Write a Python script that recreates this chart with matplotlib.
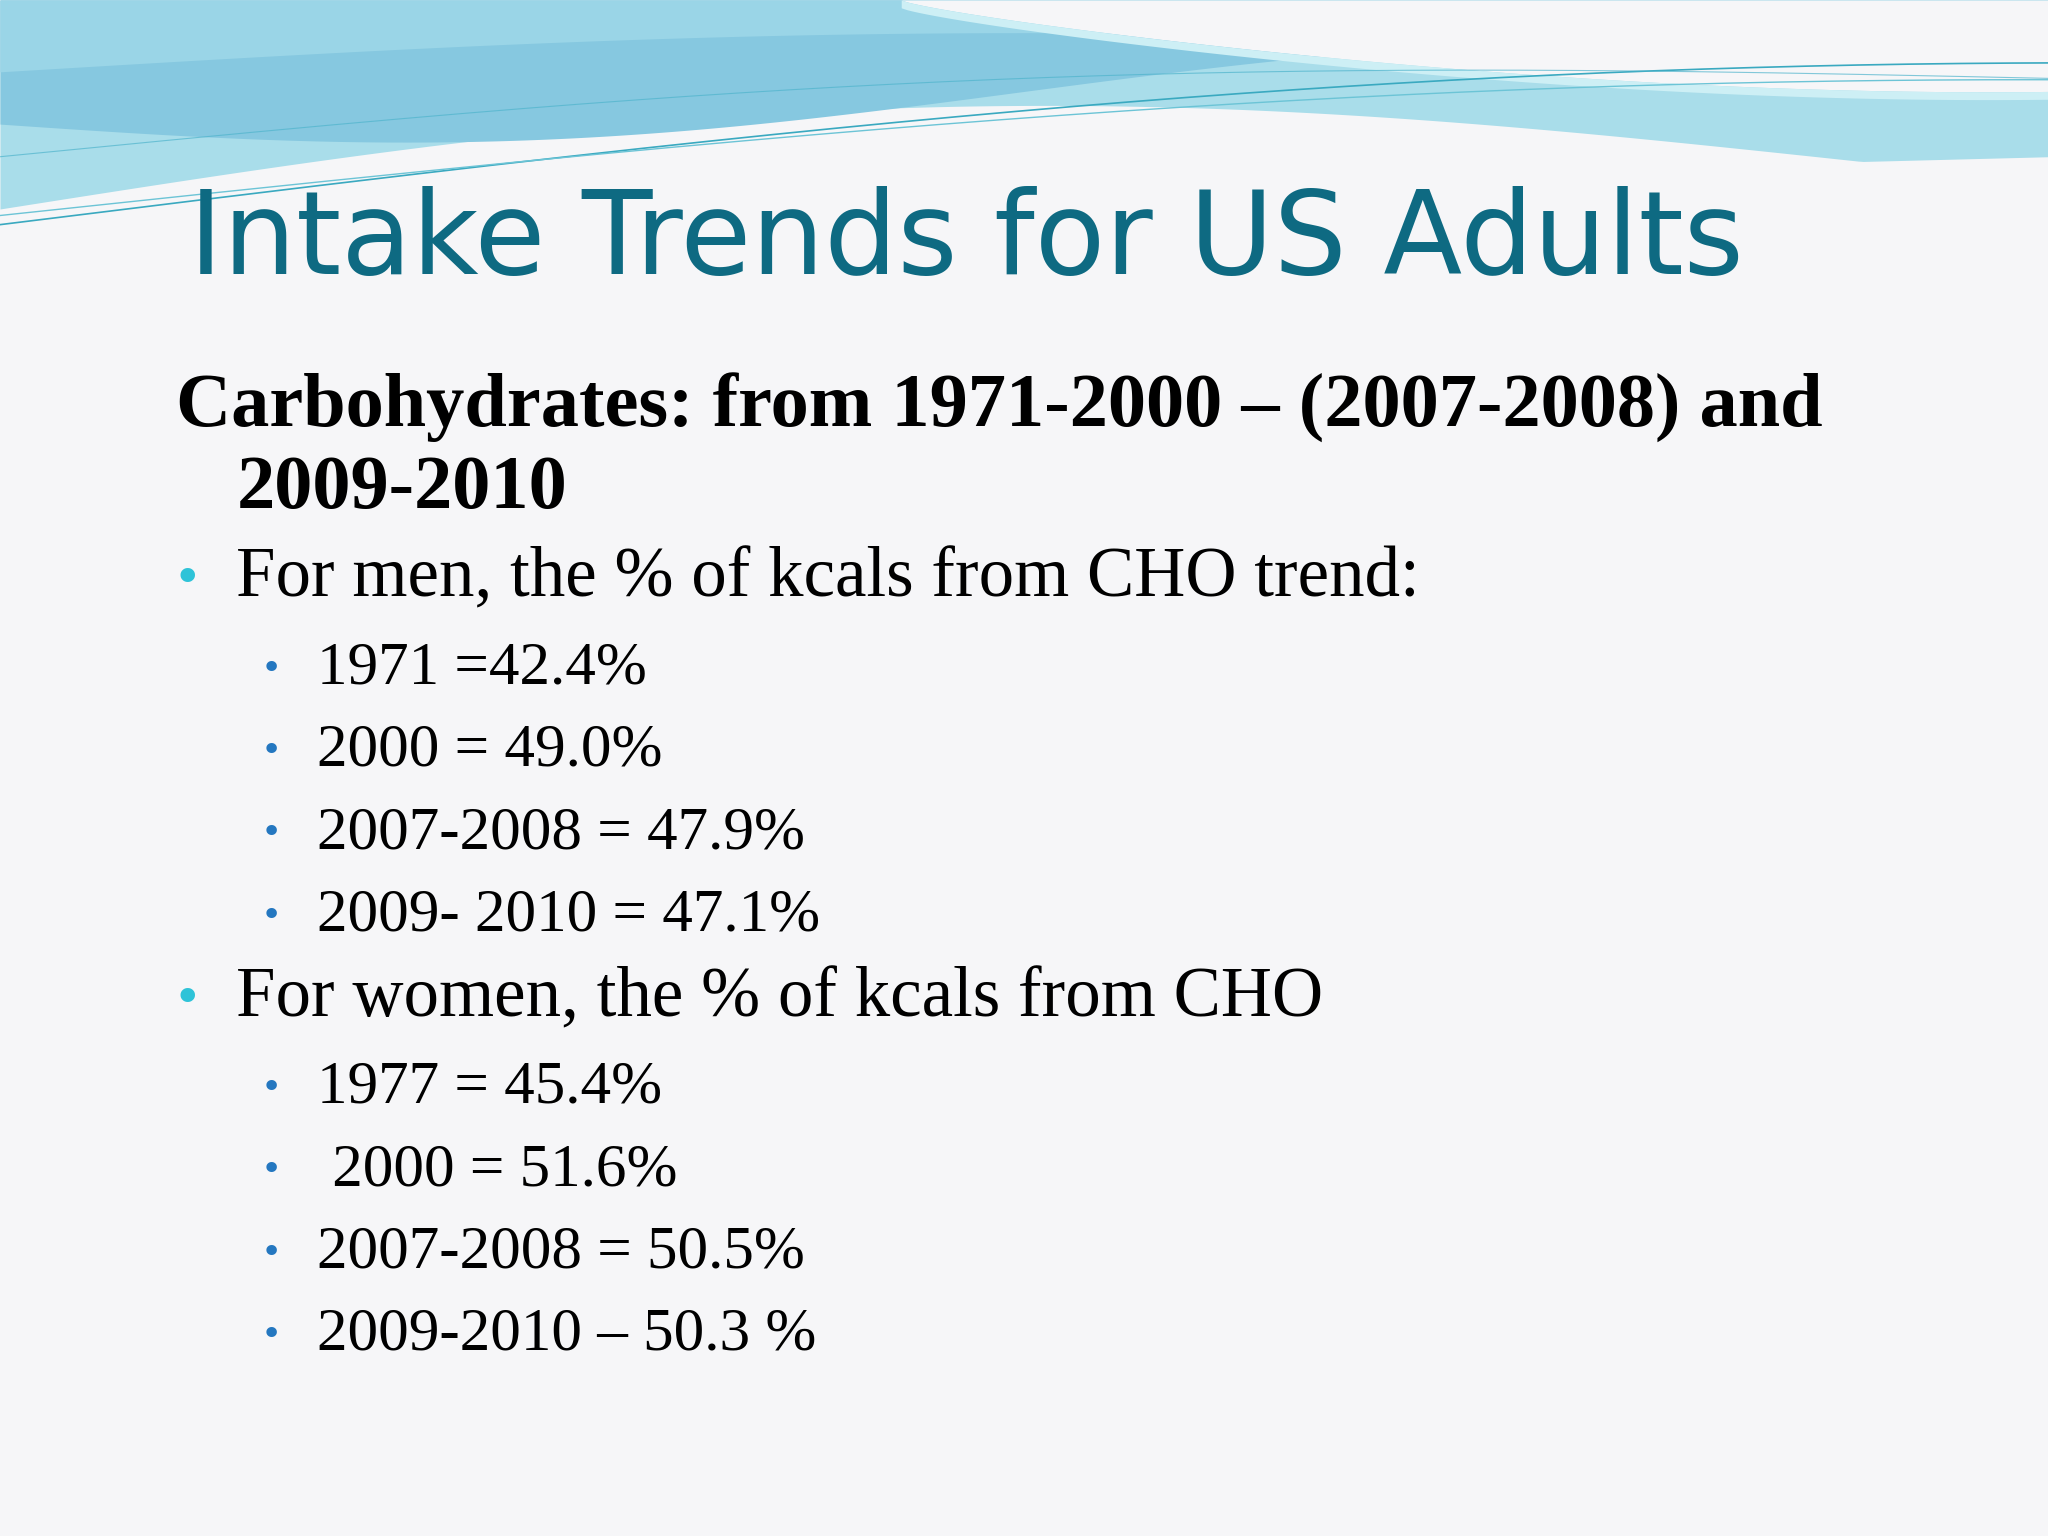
import numpy as np
import matplotlib.pyplot as plt

# slide content
title = "Intake Trends for US Adults"
heading = ["Carbohydrates: from 1971-2000 \u2013 (2007-2008) and", "2009-2010"]
men_label = "For men, the % of kcals from CHO trend:"
men_items = ["1971 =42.4%", "2000 = 49.0%", "2007-2008 = 47.9%", "2009- 2010 = 47.1%"]
women_label = "For women, the % of kcals from CHO"
women_items = ["1977 = 45.4%", " 2000 = 51.6%", "2007-2008 = 50.5%", "2009-2010 \u2013 50.3 %"]

W, H = 1568, 1176
fig = plt.figure(figsize=(20.48, 15.36), dpi=100)
fig.patch.set_facecolor("#F6F6F8")
ax = fig.add_axes([0, 0, 1, 1])
ax.set_xlim(0, W)
ax.set_ylim(H, 0)
ax.axis("off")

# header waves
x = np.linspace(0, W, 400)
t = x / W
edge = 160 - 60 * np.sin(np.pi * np.clip(t * 1.1, 0, 1)) - 40 * t
ax.fill_between(x, 0, edge, color="#A9DDEA", lw=0)
ax.fill_between(x, 0, 95 - 50 * t + 25 * np.sin(2 * np.pi * t), color="#86C8E0", lw=0)
ax.fill_between(x, 0, 55 - 30 * np.sin(np.pi * t), color="#9AD5E7", lw=0)
# white swoosh on the right
xs = np.linspace(690, W, 200)
ts = (xs - 690) / (W - 690)
swoosh = 100 * ts ** 0.8 - 30 * ts ** 3
ax.fill_between(xs, 0, swoosh, color="#F6F6F8", lw=0)
ax.fill_between(xs, swoosh, swoosh + 6, color="#CDEFF5", lw=0)
ax.plot(x, 172 - 95 * np.sin(np.pi * t * 0.55) - 30 * t, color="#3AA9C0", lw=1.2)
ax.plot(x, 165 - 85 * np.sin(np.pi * t * 0.55) - 20 * t, color="#6CC4D6", lw=1.0)
ax.plot(x, 120 - 30 * np.sin(np.pi * t) - 60 * t, color="#4FB4CC", lw=0.8, alpha=0.7)

# title
ax.text(145, 185, title, fontsize=83, color="#0E6A82", family="DejaVu Sans",
        va="center", ha="left")

serif = "Liberation Serif"
ax.text(135, 312, heading[0], fontsize=55, fontweight="bold", family=serif, va="center", color="black")
ax.text(181, 375, heading[1], fontsize=55, fontweight="bold", family=serif, va="center", color="black")

def bullet(y, text, level):
    if level == 1:
        ax.text(143, y, "\u2022", fontsize=36, color="#2EC3D8", va="center", ha="center")
        ax.text(181, y, text, fontsize=51, family=serif, va="center", color="black")
    else:
        ax.text(208, y, "\u2022", fontsize=26, color="#2477C0", va="center", ha="center")
        ax.text(243, y, text, fontsize=44, family=serif, va="center", color="black")

bullet(443, men_label, 1)
for i, s in enumerate(men_items):
    bullet(512 + 63 * i, s, 2)
bullet(765, women_label, 1)
for i, s in enumerate(women_items):
    bullet(833 + 63 * i, s, 2)

fig.savefig("out.png", dpi=100, facecolor=fig.get_facecolor())
